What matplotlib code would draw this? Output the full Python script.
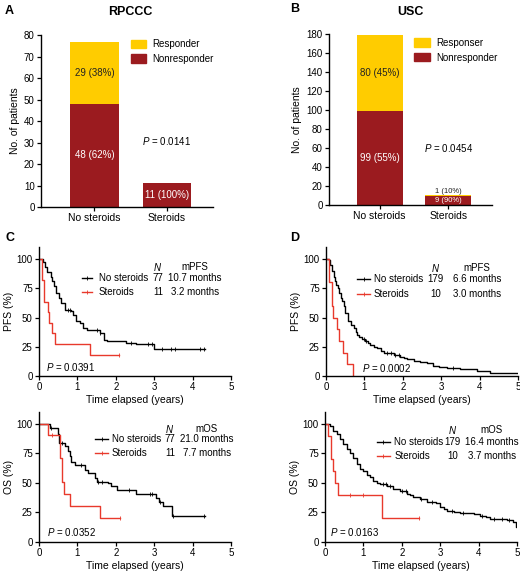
import matplotlib
matplotlib.use("Agg")
import matplotlib.pyplot as plt
import numpy as np
from matplotlib.patches import Patch

plt.rcParams['font.family'] = ['Liberation Sans', 'DejaVu Sans']
plt.rcParams['font.size'] = 7
plt.rcParams['mathtext.fontset'] = 'custom'
plt.rcParams['mathtext.it'] = 'Liberation Sans:italic'
plt.rcParams['mathtext.rm'] = 'Liberation Sans'

YELLOW = '#FFCC00'
DARKRED = '#9B1B1F'
RED = '#E8392C'

# ---- bar chart data ----
groups = ['No steroids', 'Steroids']
rpccc_nonresp = [48, 11]
rpccc_resp = [29, 0]
rpccc_nonresp_lbl = ['48 (62%)', '11 (100%)']
rpccc_resp_lbl = ['29 (38%)', '']
usc_nonresp = [99, 9]
usc_resp = [80, 1]
usc_nonresp_lbl = ['99 (55%)', '9 (90%)']
usc_resp_lbl = ['80 (45%)', '1 (10%)']

# ---- KM data (years, %) ----
c_pfs_ns_t = [0, 0.10, 0.15, 0.22, 0.30, 0.35, 0.40, 0.45, 0.52, 0.58, 0.67, 0.84, 0.89, 0.97,
              1.06, 1.15, 1.24, 1.58, 1.70, 1.78, 2.28, 2.54, 3.00, 4.33]
c_pfs_ns_s = [100, 97, 93, 89, 85, 81, 76.6, 71, 66.6, 62, 56.6, 55.7, 52, 47,
              45, 41, 39, 36.6, 31, 30, 28, 27, 23.4, 23.4]
c_pfs_ns_cens = [0.75, 0.82, 1.5, 1.6, 2.4, 2.85, 2.95, 3.2, 3.45, 3.55, 4.2, 4.3]
c_pfs_st_t = [0, 0.07, 0.09, 0.12, 0.13, 0.23, 0.27, 0.33, 0.42, 1.32, 2.09]
c_pfs_st_s = [100, 90.9, 81.8, 72.7, 63.6, 54.5, 45.5, 36.4, 27.3, 18.2, 18.2]
c_pfs_st_cens = [2.09]

c_os_ns_t = [0, 0.28, 0.50, 0.52, 0.69, 0.76, 0.80, 0.84, 0.93, 1.19, 1.28, 1.45, 1.50, 1.80,
             1.88, 2.02, 2.54, 3.04, 3.12, 3.23, 3.47, 4.33]
c_os_ns_s = [100, 96.6, 91, 84, 81, 77, 72.6, 68, 65, 61, 58.5, 54, 51, 50,
             47.6, 43.6, 41, 37, 34, 30.6, 22, 22]
c_os_ns_cens = [0.3, 0.6, 1.1, 1.55, 1.65, 2.35, 2.9, 2.95, 3.15, 3.5, 4.3]
c_os_st_t = [0, 0.23, 0.54, 0.56, 0.59, 0.64, 0.80, 1.60, 2.10]
c_os_st_s = [100, 90.9, 80.8, 70.7, 50.5, 40.4, 30.3, 20.2, 20.2]
c_os_st_cens = [0.33, 2.1]

d_pfs_ns_t = [0, 0.07, 0.11, 0.16, 0.20, 0.24, 0.27, 0.30, 0.33, 0.38, 0.42, 0.46, 0.50, 0.56,
              0.65, 0.72, 0.77, 0.81, 0.85, 0.95, 1.02, 1.10, 1.15, 1.25, 1.33, 1.42, 1.50,
              1.76, 1.94, 2.02, 2.11, 2.28, 2.45, 2.63, 2.80, 2.95, 3.15, 3.50, 3.93, 4.28, 5.0]
d_pfs_ns_s = [100, 99, 95, 90, 85, 81, 78, 75, 71, 67, 64, 59.4, 53.7, 46.6,
              44, 41, 38, 35, 33.7, 32, 30, 28, 26.6, 25, 23.7, 21.5, 19.4,
              18, 16.6, 15.5, 14.3, 13, 12, 11.4, 8.6, 7.8, 7, 5.7, 4.3, 2.9, 2.9]
d_pfs_ns_cens = [1.0, 1.05, 1.6, 1.7, 1.8, 1.9, 3.3]
d_pfs_st_t = [0, 0.09, 0.15, 0.18, 0.29, 0.35, 0.43, 0.55, 0.69]
d_pfs_st_s = [100, 80, 60, 50, 40, 30, 20, 10, 0]
d_pfs_st_cens = []

d_os_ns_t = [0, 0.13, 0.22, 0.30, 0.39, 0.48, 0.57, 0.65, 0.74, 0.83, 0.91, 1.00, 1.09, 1.17,
             1.26, 1.35, 1.43, 1.61, 1.78, 1.96, 2.13, 2.22, 2.30, 2.48, 2.65, 2.90, 3.00,
             3.09, 3.17, 3.35, 3.52, 3.87, 4.04, 4.20, 4.30, 4.74, 4.91, 4.98, 5.0]
d_os_ns_s = [100, 98, 94, 91, 87, 83, 79, 75, 71, 66, 62, 60, 57, 55,
             52, 50, 49, 47, 45, 43, 41, 39.5, 38, 36, 33.7, 33, 30,
             28, 26.6, 25, 24.3, 23.7, 22.3, 21, 19.4, 18.6, 16.6, 12.9, 12.9]
d_os_ns_cens = [1.5, 1.6, 1.7, 2.0, 2.1, 2.5, 2.8, 3.3, 3.6, 4.1, 4.4, 4.6, 4.8]
d_os_st_t = [0, 0.07, 0.16, 0.20, 0.26, 0.33, 1.48, 2.46]
d_os_st_s = [100, 90, 70, 60, 50, 40, 20, 20]
d_os_st_cens = [0.65, 1.0, 2.46]

fig = plt.figure(figsize=(5.2, 5.75), dpi=100)


def style(ax):
    for sp in ['top', 'right']:
        ax.spines[sp].set_visible(False)
    for sp in ['left', 'bottom']:
        ax.spines[sp].set_linewidth(1.0)
    ax.tick_params(direction='out', length=3, width=0.9, labelsize=7, pad=1.5)


def bar_panel(rect, nonresp, resp, nonresp_lbl, resp_lbl, ymax, step, resp_name, pval, p_y):
    ax = fig.add_axes(rect)
    style(ax)
    x = np.arange(len(groups))
    w = 0.67
    ax.bar(x, nonresp, w, color=DARKRED, edgecolor='none')
    ax.bar(x, resp, w, bottom=nonresp, color=YELLOW, edgecolor='none')
    for i in x:
        ax.text(i, nonresp[i] / 2, nonresp_lbl[i], ha='center', va='center',
                color='white', fontsize=7 if nonresp[i] > 10 or ymax < 100 else 5.5)
        if resp_lbl[i]:
            if resp[i] > 5:
                ax.text(i, nonresp[i] + resp[i] / 2, resp_lbl[i], ha='center', va='center',
                        color='#222222', fontsize=7)
            else:
                ax.text(i, nonresp[i] + resp[i] + 1, resp_lbl[i], ha='center', va='bottom',
                        color='#222222', fontsize=5.5)
    ax.set_xlim(-0.74, 1.64)
    ax.set_ylim(0, ymax)
    ax.set_yticks(np.arange(0, ymax + 1, step))
    ax.set_xticks(x)
    ax.set_xticklabels(groups, fontsize=7.5)
    ax.set_ylabel('No. of patients', fontsize=7.5, labelpad=3)
    ax.text(1.0, p_y, '$P$ = ' + pval, ha='center', va='center', fontsize=7)
    handles = [Patch(color=YELLOW, label=resp_name), Patch(color=DARKRED, label='Nonresponder')]
    ax.legend(handles=handles, loc='upper left', bbox_to_anchor=(0.5, 1.0), frameon=False,
              fontsize=7, handlelength=1.6, handleheight=0.9, labelspacing=0.5,
              borderaxespad=0, handletextpad=0.6)
    return ax


bar_panel([0.0788, 0.640, 0.331, 0.299], rpccc_nonresp, rpccc_resp, rpccc_nonresp_lbl,
          rpccc_resp_lbl, 80, 10, 'Responder', '0.0141', 30.6)
bar_panel([0.6327, 0.6435, 0.3135, 0.2974], usc_nonresp, usc_resp, usc_nonresp_lbl,
          usc_resp_lbl, 180, 20, 'Responser', '0.0454', 60)


def step_val(t, s, c):
    i = np.searchsorted(t, c, side='right') - 1
    return s[max(i, 0)]


def km_panel(rect, curves, ylabel, stat, rows, leg_x, leg_y, pval, p_xy):
    ax = fig.add_axes(rect)
    style(ax)
    for t, s, cens, col in curves:
        ax.step(t, s, where='post', color=col, lw=1.0)
        cy = [step_val(t, s, c) for c in cens]
        ax.plot(cens, cy, ls='none', marker='|', color=col, ms=3, mew=0.6)
    ax.set_xlim(0, 5)
    ax.set_ylim(0, 110)
    ax.set_xticks(range(6))
    ax.set_yticks([0, 25, 50, 75, 100])
    ax.set_xlabel('Time elapsed (years)', fontsize=7.5, labelpad=2)
    ax.set_ylabel(ylabel, fontsize=7.5, labelpad=2)
    lx0, lx1, tx, nx, mx = leg_x
    hy, y1, y2 = leg_y
    ax.text(nx, hy, '$N$', ha='center', va='center', fontsize=7)
    ax.text(mx, hy, stat, ha='center', va='center', fontsize=7)
    for (name, n, med, col), yy in zip(rows, [y1, y2]):
        ax.plot([lx0, lx1], [yy, yy], color=col, lw=1.0)
        ax.plot([(lx0 + lx1) / 2], [yy], marker='|', color=col, ms=3, mew=0.6)
        ax.text(tx, yy, name, ha='left', va='center', fontsize=7)
        ax.text(nx, yy, n, ha='center', va='center', fontsize=7)
        ax.text(mx, yy, med, ha='center', va='center', fontsize=7)
    ax.text(p_xy[0], p_xy[1], '$P$ = ' + pval, ha='left', va='center', fontsize=7)
    return ax


km_panel([0.075, 0.346, 0.369, 0.224],
         [(c_pfs_ns_t, c_pfs_ns_s, c_pfs_ns_cens, 'black'),
          (c_pfs_st_t, c_pfs_st_s, c_pfs_st_cens, RED)],
         'PFS (%)', 'mPFS',
         [('No steroids', '77', '10.7 months', 'black'), ('Steroids', '11', '3.2 months', RED)],
         (1.12, 1.38, 1.56, 3.1, 4.06), (93, 84, 72), '0.0391', (0.18, 7.7))
km_panel([0.075, 0.0574, 0.369, 0.226],
         [(c_os_ns_t, c_os_ns_s, c_os_ns_cens, 'black'),
          (c_os_st_t, c_os_st_s, c_os_st_cens, RED)],
         'OS (%)', 'mOS',
         [('No steroids', '77', '21.0 months', 'black'), ('Steroids', '11', '7.7 months', RED)],
         (1.46, 1.80, 1.90, 3.41, 4.375), (96, 87, 75), '0.0352', (0.2, 8.5))
km_panel([0.627, 0.346, 0.369, 0.224],
         [(d_pfs_ns_t, d_pfs_ns_s, d_pfs_ns_cens, 'black'),
          (d_pfs_st_t, d_pfs_st_s, d_pfs_st_cens, RED)],
         'PFS (%)', 'mPFS',
         [('No steroids', '179', '6.6 months', 'black'), ('Steroids', '10', '3.0 months', RED)],
         (0.81, 1.15, 1.25, 2.86, 3.93), (92, 83, 70), '0.0002', (0.94, 7))
km_panel([0.625, 0.0574, 0.369, 0.226],
         [(d_os_ns_t, d_os_ns_s, d_os_ns_cens, 'black'),
          (d_os_st_t, d_os_st_s, d_os_st_cens, RED)],
         'OS (%)', 'mOS',
         [('No steroids', '179', '16.4 months', 'black'), ('Steroids', '10', '3.7 months', RED)],
         (1.35, 1.69, 1.80, 3.33, 4.35), (95, 85, 73), '0.0163', (0.13, 8.5))

# panel letters and titles
fig.text(5 / 520, 1 - 11 / 575, 'A', fontsize=9, fontweight='bold', va='center')
fig.text(290 / 520, 1 - 9 / 575, 'B', fontsize=9, fontweight='bold', va='center')
fig.text(5 / 520, 1 - 238 / 575, 'C', fontsize=9, fontweight='bold', va='center')
fig.text(290 / 520, 1 - 238 / 575, 'D', fontsize=9, fontweight='bold', va='center')
fig.text(130 / 520, 1 - 12 / 575, 'RPCCC', fontsize=9, fontweight='bold', ha='center', va='center')
fig.text(410 / 520, 1 - 12 / 575, 'USC', fontsize=9, fontweight='bold', ha='center', va='center')

fig.savefig('out.png', dpi=100)
